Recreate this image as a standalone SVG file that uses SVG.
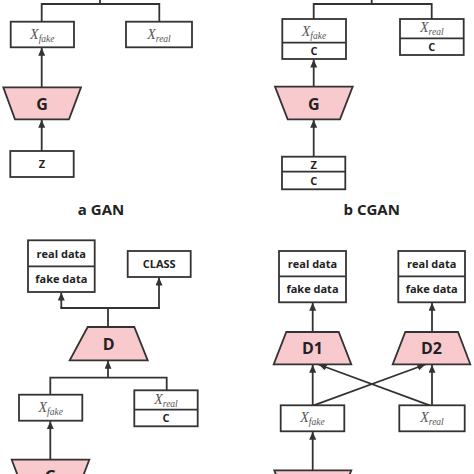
<svg xmlns="http://www.w3.org/2000/svg" width="474" height="474" viewBox="0 0 474 474">
<defs>
<marker id="ah" markerUnits="userSpaceOnUse" markerWidth="9" markerHeight="8" refX="8" refY="3.5" orient="auto">
<path d="M0,0 L8,3.5 L0,7 z" fill="#333"/>
</marker>
</defs>
<style>
.box{fill:#fff;stroke:#333;stroke-width:1.8}
.trap{fill:#f8c9cd;stroke:#333;stroke-width:1.8}
.ln{fill:none;stroke:#333;stroke-width:1.8}
.ar{fill:none;stroke:#333;stroke-width:1.8;marker-end:url(#ah)}
.lb{font-family:"Open Sans","Noto Sans",sans-serif;font-weight:bold;fill:#222;text-anchor:middle}
.big{font-size:16px}
.sm{font-size:11px}
.cap{font-size:15px}
.mx{font-family:"Liberation Serif","DejaVu Serif",serif;font-style:italic;fill:#555;text-anchor:middle;font-size:14px}
.sb{font-size:9.5px}
</style>
<rect width="474" height="474" fill="#fff"/>

<g id="connectors">
<!-- panel a -->
<path class="ln" d="M41.7,21.7 V4 H159.3 V21.7 M100,4 V0"/>
<line class="ar" x1="41.7" y1="87.3" x2="41.7" y2="47.8"/>
<line class="ar" x1="41.7" y1="151" x2="41.7" y2="119.8"/>
<!-- panel b -->
<path class="ln" d="M313.7,19 V4 H431.7 V19 M371.7,4 V0"/>
<line class="ar" x1="313.7" y1="86.7" x2="313.7" y2="59.5"/>
<line class="ar" x1="313.7" y1="156.7" x2="313.7" y2="119.8"/>
<!-- panel c -->
<path class="ln" d="M108,327 V308 M60.3,308 H160"/>
<line class="ar" x1="61.3" y1="308" x2="61.3" y2="292.5"/>
<line class="ar" x1="159" y1="308" x2="159" y2="277.5"/>
<path class="ln" d="M50.3,394.7 V377.7 H166.7 V390.3"/>
<line class="ar" x1="108" y1="377.7" x2="108" y2="360.8"/>
<line class="ar" x1="50.3" y1="459.7" x2="50.3" y2="421.2"/>
<!-- panel d -->
<line class="ar" x1="312.7" y1="332" x2="312.7" y2="302.8"/>
<line class="ar" x1="432" y1="332" x2="432" y2="302.8"/>
<line class="ar" x1="312.7" y1="405.3" x2="312.7" y2="364.8"/>
<line class="ar" x1="432" y1="405.3" x2="432" y2="364.8"/>
<line class="ar" x1="313.7" y1="405.3" x2="425.3" y2="364.5"/>
<line class="ar" x1="429.7" y1="405.3" x2="318.7" y2="364.5"/>
<line class="ar" x1="312.7" y1="470.3" x2="312.7" y2="431.8"/>
</g>

<!-- panel a nodes -->
<g id="a-xfake"><rect class="box" x="10.7" y="21.7" width="63.3" height="25.6"/>
<text class="mx" x="42.3" y="38.5">X<tspan class="sb" dy="3">fake</tspan></text></g>
<g id="a-xreal"><rect class="box" x="126" y="21.7" width="66" height="25.6"/>
<text class="mx" x="159" y="38.5">X<tspan class="sb" dy="3">real</tspan></text></g>
<g id="a-g"><polygon class="trap" points="3.3,87.3 81,87.3 69,119.3 15,119.3"/>
<text class="lb big" x="42" y="109.5">G</text></g>
<g id="a-z"><rect class="box" x="10.3" y="151" width="63.4" height="26"/>
<text class="lb sm" x="42" y="168">Z</text></g>
<g id="a-caption"><text class="lb cap" x="101" y="215">a GAN</text></g>

<!-- panel b nodes -->
<g id="b-xfake"><rect class="box" x="282.3" y="19" width="63.7" height="40"/>
<line class="ln" x1="282.3" y1="42.7" x2="346" y2="42.7"/>
<text class="mx" x="314" y="35.5">X<tspan class="sb" dy="3">fake</tspan></text>
<text class="lb sm" x="314" y="55">C</text></g>
<g id="b-xreal"><rect class="box" x="400" y="19" width="63.7" height="36"/>
<line class="ln" x1="400" y1="38.3" x2="463.7" y2="38.3"/>
<text class="mx" x="431.8" y="32">X<tspan class="sb" dy="3">real</tspan></text>
<text class="lb sm" x="431.8" y="51">C</text></g>
<g id="b-g"><polygon class="trap" points="275,86.7 352.7,86.7 340,119.3 287.7,119.3"/>
<text class="lb big" x="313.8" y="109.5">G</text></g>
<g id="b-zc"><rect class="box" x="282" y="156.7" width="63.3" height="32.6"/>
<line class="ln" x1="282" y1="171.7" x2="345.3" y2="171.7"/>
<text class="lb sm" x="313.7" y="168.5">Z</text>
<text class="lb sm" x="313.7" y="184.5">C</text></g>
<g id="b-caption"><text class="lb cap" x="371.7" y="215">b CGAN</text></g>

<!-- panel c nodes -->
<g id="c-out"><rect class="box" x="28" y="240.3" width="66.7" height="51.7"/>
<line class="ln" x1="28" y1="266.3" x2="94.7" y2="266.3"/>
<text class="lb sm" x="61.3" y="257.5">real data</text>
<text class="lb sm" x="61.3" y="283">fake data</text></g>
<g id="c-class"><rect class="box" x="127.7" y="251" width="63" height="26"/>
<text class="lb sm" x="159.2" y="268">CLASS</text></g>
<g id="c-d"><polygon class="trap" points="87.7,327 134.3,327 147.7,360.3 69.7,360.3"/>
<text class="lb big" x="108.7" y="349.5">D</text></g>
<g id="c-xfake"><rect class="box" x="19" y="394.7" width="63.3" height="26"/>
<text class="mx" x="50.7" y="411.5">X<tspan class="sb" dy="3">fake</tspan></text></g>
<g id="c-xreal"><rect class="box" x="134.3" y="390.3" width="63.4" height="36"/>
<line class="ln" x1="134.3" y1="409.7" x2="197.7" y2="409.7"/>
<text class="mx" x="166" y="403.5">X<tspan class="sb" dy="3">real</tspan></text>
<text class="lb sm" x="166" y="422">C</text></g>
<g id="c-g"><polygon class="trap" points="11.7,459.7 89.3,459.7 77,492 24,492"/>
<text class="lb big" x="50.5" y="482">G</text></g>

<!-- panel d nodes -->
<g id="d-out1"><rect class="box" x="279" y="251" width="67" height="51.3"/>
<line class="ln" x1="279" y1="276.3" x2="346" y2="276.3"/>
<text class="lb sm" x="312.5" y="267.5">real data</text>
<text class="lb sm" x="312.5" y="293">fake data</text></g>
<g id="d-out2"><rect class="box" x="398.3" y="251" width="66.7" height="51.3"/>
<line class="ln" x1="398.3" y1="276.3" x2="465" y2="276.3"/>
<text class="lb sm" x="431.7" y="267.5">real data</text>
<text class="lb sm" x="431.7" y="293">fake data</text></g>
<g id="d-d1"><polygon class="trap" points="286.3,332 338.7,332 351.3,364.3 273.7,364.3"/>
<text class="lb big" x="312.5" y="354">D1</text></g>
<g id="d-d2"><polygon class="trap" points="405.3,332 458,332 470.3,364.3 392.7,364.3"/>
<text class="lb big" x="431.5" y="354">D2</text></g>
<g id="d-xfake"><rect class="box" x="280.7" y="405.3" width="63.6" height="26"/>
<text class="mx" x="312.5" y="422">X<tspan class="sb" dy="3">fake</tspan></text></g>
<g id="d-xreal"><rect class="box" x="399.3" y="405.3" width="65.4" height="26"/>
<text class="mx" x="432" y="422">X<tspan class="sb" dy="3">real</tspan></text></g>
<g id="d-g"><polygon class="trap" points="274.3,470.3 351.3,470.3 339,502 286.6,502"/></g>
</svg>
